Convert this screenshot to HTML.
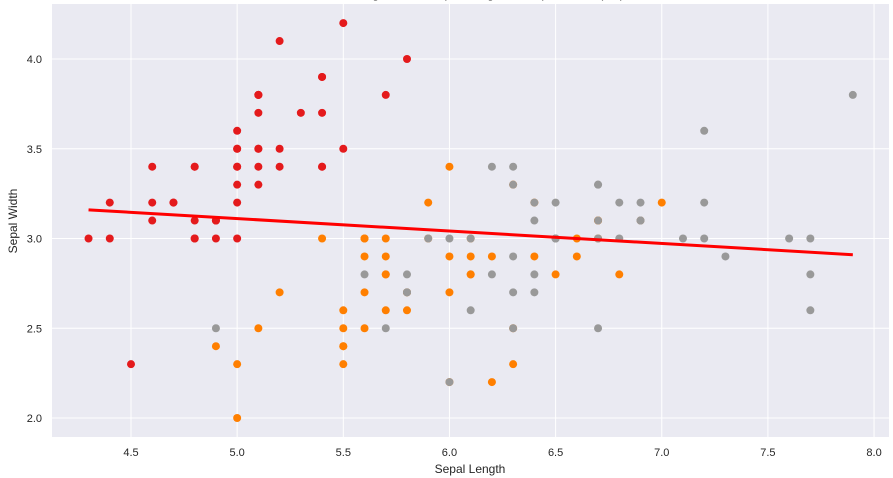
<!DOCTYPE html>
<html><head><meta charset="utf-8">
<style>
html,body{margin:0;padding:0;background:#fff;}
svg{display:block;font-family:"Liberation Sans","DejaVu Sans",sans-serif;}
</style></head>
<body>
<svg id="chart" width="893" height="478" xmlns="http://www.w3.org/2000/svg">
<text x="470" y="-2" text-anchor="middle" font-size="13" fill="#262626">Linear Regression: Sepal Length vs Sepal Width (iris)</text>
<rect x="52" y="4" width="837" height="433" fill="#eaeaf2"/>
<g id="grid"></g>
<g id="ticks"></g>
<g id="points"></g>
<g id="line"></g>
<text x="470" y="473" text-anchor="middle" font-size="12" fill="#262626">Sepal Length</text>
<text transform="translate(17,221) rotate(-90)" text-anchor="middle" font-size="12" fill="#262626">Sepal Width</text>
</svg>
<script>
const xTicks=[4.5,5.0,5.5,6.0,6.5,7.0,7.5,8.0];
const yTicks=[2.0,2.5,3.0,3.5,4.0];
const setosaLen=[5.1,4.9,4.7,4.6,5.0,5.4,4.6,5.0,4.9,5.4,4.8,4.8,4.3,5.8,5.7,5.4,5.1,5.7,5.1,5.4,5.1,5.1,4.8,5.0,5.0,5.2,5.2,4.7,4.8,5.4,5.2,5.5,4.9,5.0,5.5,4.9,4.4,5.1,5.0,4.5,4.4,5.0,5.1,4.8,5.1,4.6,5.3,5.0];
const setosaWid=[3.5,3.0,3.2,3.1,3.6,3.9,3.4,3.4,3.1,3.7,3.4,3.0,3.0,4.0,4.4,3.9,3.5,3.8,3.8,3.4,3.7,3.3,3.4,3.0,3.4,3.5,3.4,3.2,3.1,3.4,4.1,4.2,3.1,3.2,3.5,3.1,3.0,3.4,3.5,2.3,3.2,3.5,3.8,3.0,3.8,3.2,3.7,3.3];
const versiLen=[7.0,6.4,6.9,5.5,6.5,5.7,6.3,4.9,6.6,5.2,5.0,5.9,6.0,6.1,5.6,6.7,5.6,5.8,6.2,5.6,5.9,6.1,6.3,6.1,6.4,6.6,6.8,6.7,6.0,5.7,5.5,5.5,5.8,6.0,5.4,6.0,6.7,6.3,5.6,5.5,5.5,6.1,5.8,5.0,5.6,5.7,5.7,6.2,5.1,5.7];
const versiWid=[3.2,3.2,3.1,2.3,2.8,2.8,3.3,2.4,2.9,2.7,2.0,3.0,2.2,2.9,2.9,3.1,3.0,2.7,2.2,2.5,3.2,2.8,2.5,2.8,2.9,3.0,2.8,3.0,2.9,2.6,2.4,2.4,2.7,2.7,3.0,3.4,3.1,2.3,3.0,2.5,2.6,3.0,2.6,2.3,2.7,3.0,2.9,2.9,2.5,2.8];
const virgLen=[6.3,5.8,7.1,6.3,6.5,7.6,4.9,7.3,6.7,7.2,6.5,6.4,6.8,5.7,5.8,6.4,6.5,7.7,6.0,6.9,5.6,7.7,6.3,6.7,7.2,6.2,6.1,6.4,7.2,6.1,7.7,6.3,6.4,6.0,6.9,6.7,6.9,5.8,6.8,6.7,6.7,6.3,6.5,6.2,5.9,7.9];
const virgWid=[3.3,2.7,3.0,2.9,3.0,3.0,2.5,2.9,2.5,3.6,3.2,2.7,3.0,2.5,2.8,3.2,3.0,2.6,2.2,3.2,2.8,2.8,2.7,3.3,3.2,2.8,3.0,2.8,3.0,2.6,3.0,3.4,3.1,3.0,3.1,3.1,3.1,2.7,3.2,3.3,3.0,2.5,3.0,3.4,3.0,3.8];
const fitRange=[4.3,7.9];
const fitCoef=[3.458,-0.0694];

const X0=52,X1=889,Y0=4,Y1=437;
function sx(v){return 131+(v-4.5)*212.3;}
function sy(v){return 418-(v-2.0)*179.5;}
const NS="http://www.w3.org/2000/svg";
function mk(tag,attrs,parent){const e=document.createElementNS(NS,tag);for(const k in attrs)e.setAttribute(k,attrs[k]);parent.appendChild(e);return e;}
const grid=document.getElementById('grid'),ticks=document.getElementById('ticks');
xTicks.forEach(t=>{
  const l=mk('line',{x1:sx(t),x2:sx(t),y1:Y0,y2:Y1,stroke:'#fff','stroke-width':1},grid);
  
  
  const tx=mk('text',{x:sx(t),y:456,'text-anchor':'middle','font-size':11,fill:'#262626'},ticks);
  tx.textContent=t.toFixed(1);
  
  
});
yTicks.forEach(t=>{
  const l=mk('line',{x1:X0,x2:X1,y1:sy(t),y2:sy(t),stroke:'#fff','stroke-width':1},grid);
  
  
  const tx=mk('text',{x:42,y:sy(t)+4,'text-anchor':'end','font-size':11,fill:'#262626'},ticks);
  tx.textContent=t.toFixed(1);
  
  
});
const pts=document.getElementById('points');
function series(xs,ys,color,name){
  xs.forEach((x,i)=>{
    const y=ys[i];
    if(sy(y)<Y0||sy(y)>Y1)return;
    const c=mk('circle',{cx:sx(x),cy:sy(y),r:4,fill:color},pts);
    
    
  });
}
series(setosaLen,setosaWid,'#e41a1c','setosa-point');
series(versiLen,versiWid,'#ff7f00','versicolor-point');
series(virgLen,virgWid,'#999999','virginica-point');
const lg=document.getElementById('line');
const ln=mk('line',{x1:sx(fitRange[0]),y1:sy(fitCoef[0]+fitCoef[1]*fitRange[0]),x2:sx(fitRange[1]),y2:sy(fitCoef[0]+fitCoef[1]*fitRange[1]),stroke:'#ff0000','stroke-width':3},lg);


</script>
</body></html>
